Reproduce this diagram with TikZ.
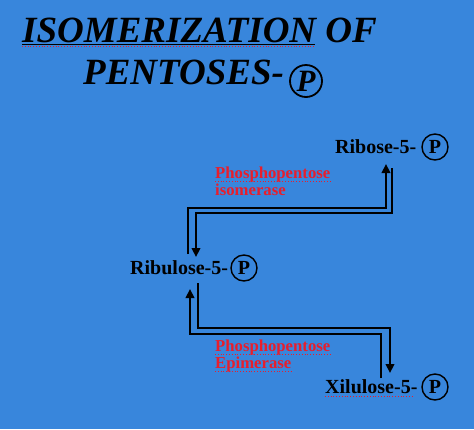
\documentclass[tikz,border=0pt]{standalone}
\usepackage{fontspec}
\setmainfont{Liberation Serif}
\usetikzlibrary{arrows.meta,calc}
\definecolor{bg}{RGB}{56,134,220}
\definecolor{lab}{RGB}{232,30,44}
\begin{document}
\begin{tikzpicture}[x=1pt,y=-1pt,
  titletext/.style={inner sep=0pt,font=\fontsize{37}{40}\selectfont\bfseries\itshape},
  met/.style={inner sep=0pt,font=\fontsize{20}{22}\selectfont\bfseries},
  pcirc/.style={draw,circle,line width=1.4pt,inner sep=0pt,minimum size=26pt,font=\fontsize{20}{22}\selectfont\bfseries},
  tpcirc/.style={draw,circle,line width=1.8pt,inner sep=0pt,minimum size=32pt,font=\fontsize{31}{33}\selectfont\bfseries\itshape},
  enz/.style={inner sep=0pt,text=lab,font=\fontsize{16.7}{18}\selectfont\bfseries},
  squig/.style={lab,line width=0.8pt,dotted},
  arr/.style={line width=2.8pt,-{Triangle[length=9pt,width=8.5pt]}}]
\fill[bg] (0,0) rectangle (474,429);
\useasboundingbox (0,0) rectangle (474,429);
% title
\node[titletext,anchor=base west] (t1) at (22,42) {ISOMERIZATION OF};
\node[titletext,anchor=base west] (t2) at (83,84) {PENTOSES-};
\node[tpcirc] (t2p) at (306,81) {P};
\draw[line width=1.5pt] (22,44.5) -- (315,44.5);
\draw[squig] (22,46.5) -- (315,46.5);
% metabolites
\node[met,anchor=base west] (ribose) at (335,153) {Ribose-5-};
\node[pcirc] (riboseP) at (435,147) {P};
\node[met,anchor=base west] (ribulose) at (130,274) {Ribulose-5-};
\node[pcirc] (ribuloseP) at (244,268) {P};
\node[met,anchor=base west] (xilulose) at (325,393) {Xilulose-5-};
\node[pcirc] (xiluloseP) at (435,387) {P};
\draw[squig] (325,396) -- (414,396);
% enzymes
\node[enz,anchor=base west] (e1a) at (215,178) {Phosphopentose};
\node[enz,anchor=base west] (e1b) at (215,195) {isomerase};
\draw[squig] (215,181) -- (331,181);
\node[enz,anchor=base west] (e2a) at (215,351) {Phosphopentose};
\node[enz,anchor=base west] (e2b) at (215,368) {Epimerase};
\draw[squig] (215,354) -- (331,354);
\draw[squig] (215,371) -- (293,371);
% connectors
\coordinate (a1) at (188,254);
\coordinate (a2) at (386,164);
\coordinate (b1) at (392,168);
\coordinate (b2) at (196,257);
\coordinate (c1) at (198,283);
\coordinate (c2) at (390,373);
\coordinate (d1) at (381,378);
\coordinate (d2) at (190,289);
\draw[arr] (a1) -- ++(0,-46) -| (a2);
\draw[arr] (b1) -- ++(0,45) -| (b2);
\draw[arr] (c1) -- ++(0,45) -| (c2);
\draw[arr] (d1) -- ++(0,-44) -| (d2);
\end{tikzpicture}
\end{document}
